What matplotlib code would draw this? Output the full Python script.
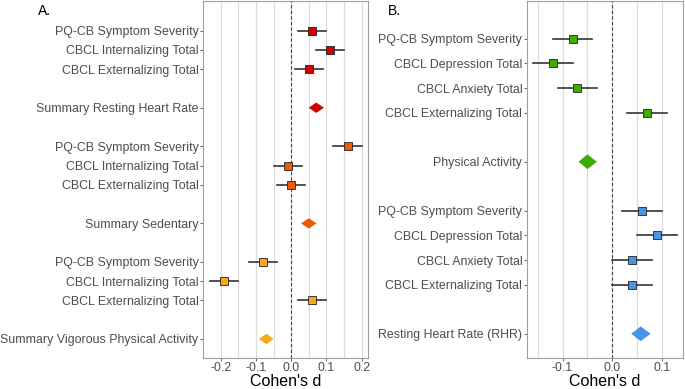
import numpy as np
import matplotlib
matplotlib.use("Agg")
import matplotlib.pyplot as plt
from matplotlib.patches import Polygon

plt.rcParams["font.family"] = ["Liberation Sans", "DejaVu Sans"]

# panel A: three groups, each with 3 outcomes and a summary
a_labels = ["PQ-CB Symptom Severity", "CBCL Internalizing Total", "CBCL Externalizing Total"]
a_summary = ["Summary Resting Heart Rate", "Summary Sedentary", "Summary Vigorous Physical Activity"]
a_est = [[0.06, 0.11, 0.05], [0.16, -0.01, 0.0], [-0.08, -0.19, 0.06]]
a_lo = [[0.02, 0.07, 0.01], [0.12, -0.05, -0.04], [-0.12, -0.23, 0.02]]
a_hi = [[0.10, 0.15, 0.09], [0.20, 0.03, 0.04], [-0.04, -0.15, 0.10]]
a_sum_est = [0.071, 0.05, -0.07]
a_sum_lo = [0.05, 0.028, -0.092]
a_sum_hi = [0.093, 0.072, -0.05]
a_colors = ["#D00000", "#EC5A06", "#F8A61A"]

# panel B: two groups, each with 4 outcomes and a summary
b_labels = ["PQ-CB Symptom Severity", "CBCL Depression Total", "CBCL Anxiety Total", "CBCL Externalizing Total"]
b_summary = ["Physical Activity", "Resting Heart Rate (RHR)"]
b_est = [[-0.08, -0.12, -0.07, 0.07], [0.06, 0.09, 0.04, 0.04]]
b_lo = [[-0.12, -0.16, -0.11, 0.03], [0.02, 0.05, 0.0, 0.0]]
b_hi = [[-0.04, -0.08, -0.03, 0.11], [0.10, 0.13, 0.08, 0.08]]
b_sum_est = [-0.05, 0.057]
b_sum_lo = [-0.068, 0.038]
b_sum_hi = [-0.031, 0.077]
b_colors = ["#3DAE00", "#4A93E8"]


def forest(ax, labels, summ, est, lo, hi, s_est, s_lo, s_hi, colors, xlim, xticks, dh):
    ax.set_xlim(*xlim)
    for g in np.arange(-0.25, 0.25, 0.05):
        if xlim[0] < g < xlim[1]:
            ax.axvline(g, color="#DCDCDC", lw=0.9, zorder=0)
    ax.axvline(0, color="#444444", lw=0.8, ls=(0, (3, 2)), zorder=1)

    ypos, ylabs = [], []
    y = 1
    for i in range(len(summ)):
        for j in range(len(labels)):
            ax.plot([lo[i][j], hi[i][j]], [y, y], color="#333333", lw=1.2, zorder=2)
            ax.plot(est[i][j], y, marker="s", ms=5.3, mfc=colors[i], mec="#222222", mew=0.6, zorder=3)
            ypos.append(y)
            ylabs.append(labels[j])
            y += 1
        y += 1
        d = Polygon([[s_lo[i], y], [s_est[i], y - dh], [s_hi[i], y], [s_est[i], y + dh]],
                    closed=True, fc=colors[i], ec="none", zorder=3)
        ax.add_patch(d)
        ypos.append(y)
        ylabs.append(summ[i])
        y += 2
    ax.set_ylim(ypos[-1] + 0.98, -0.55)
    ax.set_yticks(ypos)
    ax.set_yticklabels(ylabs)
    ax.set_xticks(xticks)
    ax.set_xticklabels(["%.1f" % t for t in xticks])
    ax.tick_params(colors="#4D4D4D", labelsize=8.9, length=2.2, width=0.6)
    ax.tick_params(axis="y", pad=1)
    ax.tick_params(axis="x", pad=1)
    for s in ax.spines.values():
        s.set_color("#A0A0A0")
        s.set_linewidth(0.8)
    ax.set_xlabel("Cohen's d", fontsize=11.5, color="black", labelpad=0)


fig = plt.figure(figsize=(6.85, 3.89), dpi=100)
ax1 = fig.add_axes([0.2964, 0.080, 0.2409, 0.918])
ax2 = fig.add_axes([0.769, 0.080, 0.228, 0.918])

forest(ax1, a_labels, a_summary, a_est, a_lo, a_hi, a_sum_est, a_sum_lo, a_sum_hi,
       a_colors, (-0.25, 0.218), [-0.2, -0.1, 0.0, 0.1, 0.2], 0.27)
forest(ax2, b_labels, b_summary, b_est, b_lo, b_hi, b_sum_est, b_sum_lo, b_sum_hi,
       b_colors, (-0.172, 0.142), [-0.1, 0.0, 0.1], 0.3)

fig.text(38 / 685, 1 - 15 / 389, "A.", fontsize=10, color="black")
fig.text(388 / 685, 1 - 15 / 389, "B.", fontsize=10, color="black")

fig.savefig("out.png", dpi=100)
